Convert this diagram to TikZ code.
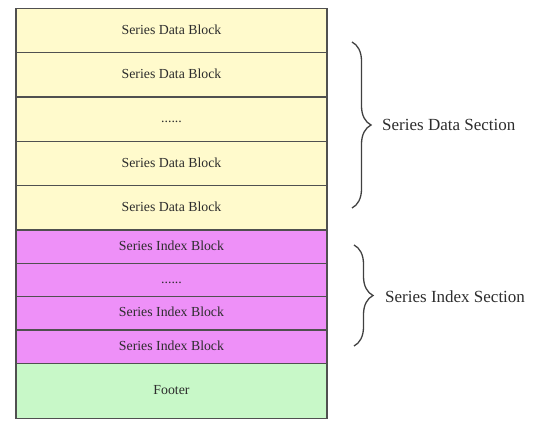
\documentclass[tikz,border=0pt]{standalone}
\usepackage{fontspec}
\setmainfont{Liberation Serif}
\usepackage{tikz}
\usetikzlibrary{positioning,decorations.pathreplacing}
\definecolor{datafill}{RGB}{255,250,204}
\definecolor{indexfill}{RGB}{238,144,248}
\definecolor{footfill}{RGB}{200,248,200}
\definecolor{edgegray}{RGB}{80,80,80}
\definecolor{textgray}{RGB}{45,45,45}

\begin{document}
\begin{tikzpicture}[x=1pt, y=-1pt,
      every node/.append style={text=textgray},
      block/.style={draw=edgegray, line width=1.2pt, minimum width=311pt,
        outer sep=0pt, inner sep=0pt, text height=10pt, text depth=3pt,
        font=\fontsize{13.8}{16}\selectfont},
      datablock/.style={block, fill=datafill, minimum height=44.3pt},
      indexblock/.style={block, fill=indexfill, minimum height=33.3pt},
      footblock/.style={block, fill=footfill, minimum height=55pt}]
    \tikzstyle{sbrace} = [draw=edgegray!80!black, line width=1.3pt, decorate,
      decoration={brace, amplitude=19pt}]
    \tikzstyle{seclabel} = [inner sep=0pt, anchor=west, font=\fontsize{17}{20}\selectfont]
    \useasboundingbox (0,0) rectangle (538,433);
    \node (data1) [datablock, anchor=north west] at (16,8.5) {Series Data Block};
    \node (data2) [datablock, below=0pt of data1] {Series Data Block};
    \node (datadots) [datablock, below=0pt of data2] {......};
    \node (data3) [datablock, below=0pt of datadots] {Series Data Block};
    \node (data4) [datablock, below=0pt of data3] {Series Data Block};
    \node (index1) [indexblock, below=0pt of data4] {Series Index Block};
    \node (indexdots) [indexblock, below=0pt of index1] {......};
    \node (index2) [indexblock, below=0pt of indexdots] {Series Index Block};
    \node (index3) [indexblock, below=0pt of index2] {Series Index Block};
    \node (footer) [footblock, below=0pt of index3] {Footer};
    \coordinate (dtop) at (352,42);
    \coordinate (dbot) at (352,208);
    \coordinate (itop) at (354,245);
    \coordinate (ibot) at (354,346);
    \draw[sbrace] (dtop) -- (dbot);
    \draw[sbrace] (itop) -- (ibot);
    \path (dtop) -- (dbot) node[midway, seclabel, xshift=30pt] (datasec) {Series Data Section};
    \path (itop) -- (ibot) node[midway, seclabel, xshift=31pt, yshift=-1.5pt] (indexsec) {Series Index Section};
\end{tikzpicture}
\end{document}
